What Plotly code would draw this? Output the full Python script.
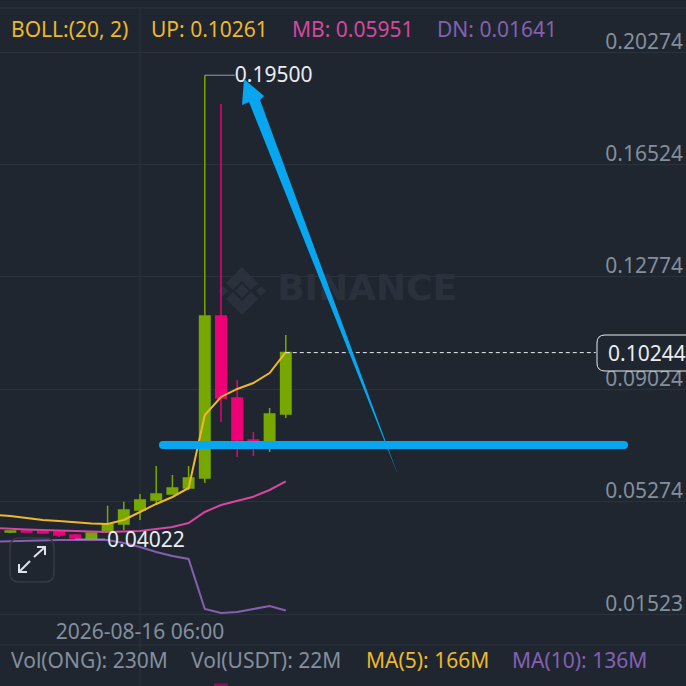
import pandas as pd
import plotly.graph_objects as go

# candles, oldest first (first one sits just off the left edge)
times = pd.date_range("2026-08-15 21:00", periods=19, freq="h")
opens = [0.04290, 0.04260, 0.04294, 0.04294, 0.04260, 0.04160, 0.04036, 0.04260, 0.04527, 0.04994,
         0.05327, 0.05528, 0.05728, 0.06061, 0.11466, 0.08730, 0.07329, 0.07296, 0.08197]
highs = [0.04330, 0.04300, 0.04310, 0.04320, 0.04327, 0.04193, 0.04236, 0.05138, 0.05271, 0.05527,
         0.06462, 0.06161, 0.06462, 0.19500, 0.18539, 0.09331, 0.07596, 0.08397, 0.10832]
lows = [0.04250, 0.04227, 0.04240, 0.04227, 0.04093, 0.04022, 0.04036, 0.04260, 0.04327, 0.04660,
        0.05227, 0.05528, 0.05661, 0.05894, 0.07930, 0.06762, 0.06795, 0.06929, 0.08063]
closes = [0.04260, 0.04294, 0.04260, 0.04227, 0.04160, 0.04060, 0.04227, 0.04527, 0.04994, 0.05327,
          0.05528, 0.05728, 0.06061, 0.11466, 0.08730, 0.07329, 0.07260, 0.08197, 0.10244]

boll_up = [0.04827, 0.04794, 0.04727, 0.04660, 0.04627, 0.04577, 0.04544, 0.04527, 0.04660, 0.04927,
           0.05194, 0.05427, 0.05728, 0.08163, 0.08764, 0.09031, 0.09231, 0.09564, 0.10261]
boll_mb = [0.04393, 0.04360, 0.04343, 0.04327, 0.04310, 0.04294, 0.04277, 0.04260, 0.04277, 0.04294,
           0.04360, 0.04427, 0.04560, 0.04927, 0.05161, 0.05304, 0.05437, 0.05661, 0.05951]
boll_dn = [0.03936, 0.03950, 0.03960, 0.03993, 0.03993, 0.03993, 0.03993, 0.03993, 0.03893, 0.03759,
           0.03592, 0.03459, 0.03359, 0.01691, 0.01557, 0.01591, 0.01691, 0.01791, 0.01641]

# only the tallest volume bar pokes into the bottom edge of the crop
volume_time = ["2026-08-16 11:00"]
volume_value = [1.0]

price_ticks = [0.20274, 0.16524, 0.12774, 0.09024, 0.05274, 0.01523]
date_tick = "2026-08-16 06:00"
last_price = 0.10244
high_label = 0.19500
low_label = 0.04022
high_time = "2026-08-16 10:00"
low_time = "2026-08-16 02:00"
mark_text = "BINANCE"
mark_time = "2026-08-16 14:28"
mark_price = 0.12300

BG = "#1f2630"
GRID = "#2b323c"
TICK = "#848e9c"
WHITE = "#eaecef"
GREEN = "#76a800"
PINK = "#ee0077"
YELLOW = "#eeb72c"
MAGENTA = "#d6479e"
PURPLE = "#8560b0"
BLUE = "#09a6f0"
MARK = "#2a313d"
W = H = 686
FONT = "Noto Sans"
SIZE = 21


def px(x):
    return x / W


def py(y):
    return 1 - y / H


def poly(points, close=True):
    d = "M " + " L ".join(f"{px(x):.5f},{py(y):.5f}" for x, y in points)
    return d + (" Z" if close else "")


def rounded(x0, y0, x1, y1, r):
    # corners drawn as short quadratic curves, paper coordinates
    p = lambda x, y: f"{px(x):.5f},{py(y):.5f}"
    return (f"M {p(x0 + r, y0)} L {p(x1 - r, y0)} Q {p(x1, y0)} {p(x1, y0 + r)} "
            f"L {p(x1, y1 - r)} Q {p(x1, y1)} {p(x1 - r, y1)} L {p(x0 + r, y1)} "
            f"Q {p(x0, y1)} {p(x0, y1 - r)} L {p(x0, y0 + r)} Q {p(x0, y0)} {p(x0 + r, y0)} Z")


# 112.4 px per 0.0375, top tick at y=52, bottom tick at y=614, pane runs a little past it
per_px = 0.0375 / 112.4
y_top = price_ticks[0] + 52 * per_px
y_bottom = price_ticks[-1] - 8 * per_px

fig = go.Figure()
# text traces stay under the blue drawing, annotations would not
fig.add_trace(go.Scatter(x=[mark_time], y=[mark_price], mode="text", text=[f"<b>{mark_text}</b>"],
                         textposition="middle right", textfont=dict(color=MARK, size=36, family="DejaVu Sans"),
                         showlegend=False, hoverinfo="skip"))
fig.add_trace(go.Candlestick(
    x=times, open=opens, high=highs, low=lows, close=closes,
    increasing=dict(line=dict(color=GREEN, width=1.5), fillcolor=GREEN),
    decreasing=dict(line=dict(color=PINK, width=1.5), fillcolor=PINK),
    whiskerwidth=0, showlegend=False, hoverinfo="skip",
))
for values, color in [(boll_dn, PURPLE), (boll_mb, MAGENTA), (boll_up, YELLOW)]:
    fig.add_trace(go.Scatter(x=times, y=values, mode="lines", line=dict(color=color, width=2),
                             showlegend=False, hoverinfo="skip"))
fig.add_trace(go.Bar(x=volume_time, y=volume_value, yaxis="y2", marker_color="#8a1058", marker_line_width=0,
                     width=3600000 * 0.85, showlegend=False, hoverinfo="skip"))
# nudged 2 px down so the text centres on its leader line
fig.add_trace(go.Scatter(x=[pd.Timestamp(high_time) + pd.Timedelta(hours=30 / 16.2)], y=[high_label - 2 * per_px],
                         mode="text", text=[f"{high_label:.5f}"], textposition="middle right",
                         textfont=dict(color=WHITE, size=SIZE, family=FONT), showlegend=False, hoverinfo="skip"))

# 16.2 px per hour, 06:00 candle at x=140
tick_ts = pd.Timestamp(date_tick)
x_start = tick_ts - pd.Timedelta(hours=140 / 16.2)
x_end = tick_ts + pd.Timedelta(hours=(W - 140) / 16.2)

fig.update_layout(
    width=W, height=H, margin=dict(l=0, r=0, t=0, b=0),
    paper_bgcolor=BG, plot_bgcolor=BG, boxgap=0.08, bargap=0.15,
    font=dict(family=FONT, size=SIZE, color=TICK),
    xaxis=dict(range=[x_start, x_end], rangeslider=dict(visible=False), showgrid=False, zeroline=False,
               showline=False, tickmode="array", tickvals=[date_tick], ticktext=[date_tick], ticks="",
               anchor="y", ticklabelstandoff=-5, tickfont=dict(size=SIZE, color=TICK)),
    yaxis=dict(domain=[py(622), 1], range=[y_bottom, y_top], side="right",
               tickmode="array", tickvals=price_ticks, ticktext=[f"{t:.5f}" for t in price_ticks],
               ticklabelposition="inside top", ticklabelshift=4, gridcolor=GRID, gridwidth=1, zeroline=False,
               showline=False, ticks="", tickfont=dict(size=SIZE, color=TICK)),
    yaxis2=dict(domain=[0, py(645)], range=[0, 16], visible=False, anchor="x"),
)

line_grid = dict(color=GRID, width=1)
shapes = [
    dict(type="line", xref="paper", yref="paper", x0=0, x1=1, y0=py(8), y1=py(8), line=line_grid, layer="below"),
    dict(type="line", xref="paper", yref="paper", x0=0, x1=1, y0=py(645), y1=py(645), line=line_grid, layer="below"),
    dict(type="line", xref="x", yref="paper", x0=date_tick, x1=date_tick, y0=0, y1=py(8), line=line_grid, layer="below"),
    # leader lines for the high and low labels
    dict(type="line", xref="x", yref="y", xsizemode="pixel", xanchor=high_time, x0=0, x1=30,
         y0=high_label, y1=high_label, line=dict(color="#9aa0a8", width=1)),
    dict(type="line", xref="x", yref="y", xsizemode="pixel", xanchor=low_time, x0=0, x1=30,
         y0=low_label, y1=low_label, line=dict(color="#9aa0a8", width=1)),
    # last price dashed line and its tag
    dict(type="line", xref="x", yref="y", xsizemode="pixel", xanchor=times[-1], x0=0, x1=310,
         y0=last_price, y1=last_price, line=dict(color=WHITE, width=1, dash="4px,3px")),
    dict(type="path", xref="paper", yref="paper", path=rounded(597, 335, 700, 371, 8),
         fillcolor=BG, line=dict(color=WHITE, width=1)),
    # hand drawn blue marks on top of the chart
    dict(type="line", xref="paper", yref="paper", x0=px(163), x1=px(624), y0=py(445), y1=py(445),
         line=dict(color=BLUE, width=8)),
    dict(type="path", xref="paper", yref="paper", fillcolor=BLUE, line=dict(width=0),
         path=poly([(398, 475), (260, 100), (264, 96), (244, 79), (242, 105), (249, 102)])),
    # round caps for the horizontal stroke
    dict(type="circle", xref="paper", yref="paper", x0=px(159), x1=px(167), y0=py(449), y1=py(441),
         fillcolor=BLUE, line=dict(width=0)),
    dict(type="circle", xref="paper", yref="paper", x0=px(620), x1=px(628), y0=py(449), y1=py(441),
         fillcolor=BLUE, line=dict(width=0)),
    # expand button
    dict(type="path", xref="paper", yref="paper", path=rounded(10, 538, 54, 582, 9),
         line=dict(color="#343b47", width=1.5)),
]
for pts in [[(19, 572), (30, 561)], [(19, 564), (19, 572), (27, 572)],
            [(34, 557), (45, 547)], [(37, 547), (45, 547), (45, 555)]]:
    shapes.append(dict(type="path", xref="paper", yref="paper", path=poly(pts, close=False),
                       line=dict(color="#dfe3e8", width=2)))
# watermark logo
for pts in [[(242, 267), (258, 283), (251, 290), (242, 281), (233, 290), (226, 283)],
            [(242, 315), (258, 299), (251, 292), (242, 301), (233, 292), (226, 299)],
            [(242, 284), (249, 291), (242, 298), (235, 291)],
            [(261, 286), (266, 291), (261, 296), (256, 291)],
            [(223, 286), (228, 291), (223, 296), (218, 291)]]:
    shapes.append(dict(type="path", xref="paper", yref="paper", path=poly(pts), fillcolor=MARK,
                       line=dict(width=0), layer="below"))
fig.update_layout(shapes=shapes)


def label(x, y, text, color=TICK, size=SIZE, **kw):
    fig.add_annotation(xref="paper", yref="paper", x=px(x), y=py(y), text=text, showarrow=False,
                       xanchor="left", yanchor="middle", font=dict(color=color, size=size, family=FONT),
                       borderpad=0, **kw)


label(10, 29, "BOLL:(20, 2)", YELLOW)
label(150, 29, "UP: 0.10261", YELLOW)
label(291, 29, "MB: 0.05951", MAGENTA)
label(436, 29, "DN: 0.01641", PURPLE)
label(10, 660, "Vol(ONG): 230M")
label(190, 660, "Vol(USDT): 22M")
label(365, 660, "MA(5): 166M", YELLOW)
label(511, 660, "MA(10): 136M", PURPLE)
label(607, 353, f"{last_price:.5f}", WHITE)

fig.add_annotation(x=low_time, y=low_label, xref="x", yref="y", text=f"{low_label:.5f}", showarrow=False,
                   xanchor="left", yanchor="middle", xshift=30, font=dict(color=WHITE, size=SIZE, family=FONT))

fig.write_html("out.html", config=dict(displayModeBar=False),
               post_script="document.body.style.margin='0';document.body.style.overflow='hidden';")
